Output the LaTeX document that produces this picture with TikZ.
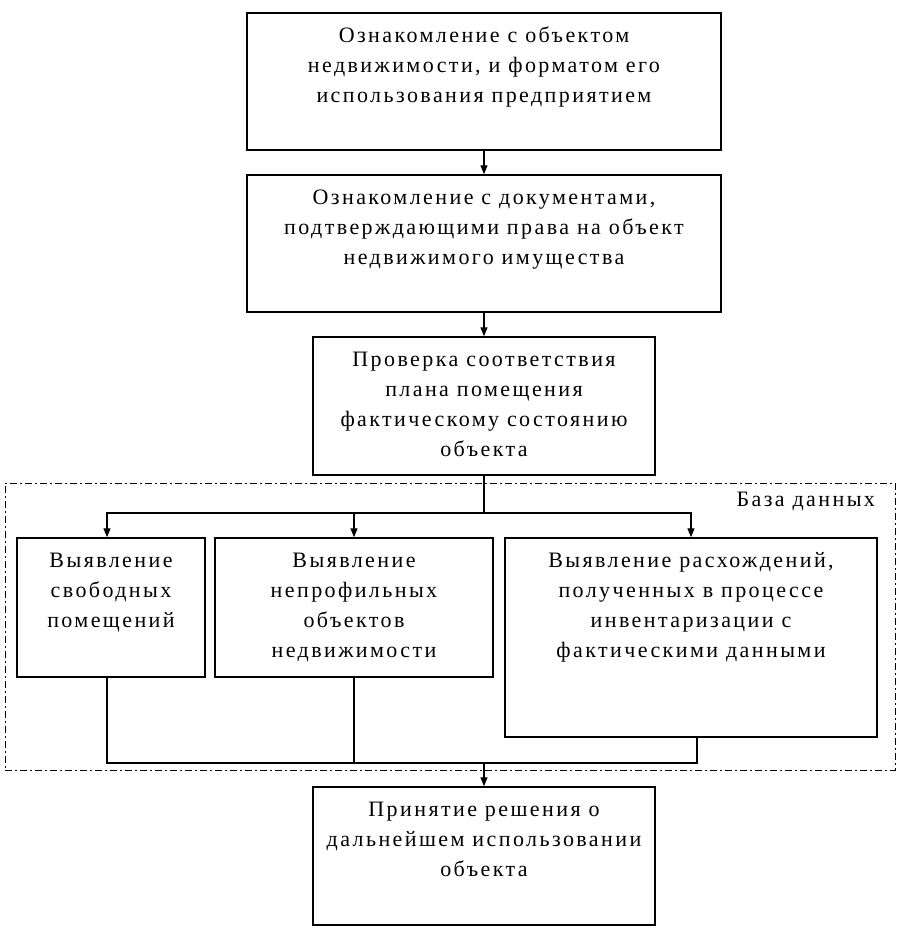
\documentclass[tikz,border=0pt]{standalone}
\usepackage{fontspec}
\setmainfont[LetterSpace=11]{Liberation Serif}
\usetikzlibrary{arrows.meta}
\newcommand{\bloktext}[3]{\parbox[c][#2pt][t]{#1pt}{\centering\rule{0pt}{29pt}#3}}
\begin{document}
\begin{tikzpicture}[x=1pt,y=-1pt,
    font=\fontsize{22}{30}\selectfont,
    blok/.style={draw,line width=1.5pt,inner sep=0pt},
    arr/.style={line width=1.2pt,-{Triangle[length=9pt,width=7pt]}},
    lin/.style={line width=1.2pt},
    frame/.style={draw,line width=1pt,dash pattern=on 7pt off 3pt on 2pt off 3pt,inner sep=0pt}]
        \useasboundingbox (0,0) rectangle (902,938);
        \node[frame,minimum width=890pt,minimum height=287pt] (db) at (450,626.5) {};
        \node[anchor=base east] (dblabel) at ([xshift=-17pt,yshift=-24pt]db.north east) {База данных};
        \node[blok] (b1) at (484,81.5) {\bloktext{474}{137}{Ознакомление с объектом\\ недвижимости, и форматом его\\ использования предприятием}};
        \node[blok] (b2) at (484,243.5) {\bloktext{474}{137}{Ознакомление с документами,\\ подтверждающими права на объект\\ недвижимого имущества}};
        \node[blok] (b3) at (484,406) {\bloktext{342}{138}{Проверка соответствия\\ плана помещения\\ фактическому состоянию\\ объекта}};
        \node[blok] (v1) at (111,607.5) {\bloktext{188}{139}{Выявление\\ свободных\\ помещений}};
        \node[blok] (v2) at (354,607.5) {\bloktext{278}{139}{Выявление\\ непрофильных\\ объектов\\ недвижимости}};
        \node[blok] (v3) at (691,637.5) {\bloktext{372}{199}{Выявление расхождений,\\ полученных в процессе\\ инвентаризации с\\ фактическими данными}};
        \node[blok] (b4) at (484,856) {\bloktext{342}{138}{Принятие решения о\\ дальнейшем использовании\\ объекта}};
        \coordinate (split) at (484,513);
        \coordinate (join) at (484,763);
        \draw[arr] (b1) -- (b2);
        \draw[arr] (b2) -- (b3);
        \draw[lin] (b3) -- (split);
        \draw[arr] (split) -| ([xshift=-4pt]v1.north);
        \draw[arr] (split) -| (v3.north);
        \draw[arr] (v2.north |- split) -- (v2.north);
        \draw[lin] ([xshift=-4pt]v1.south) |- (join);
        \draw[lin] ([xshift=6pt]v3.south) |- (join);
        \draw[lin] (v2.south) -- (v2.south |- join);
        \draw[arr] (join) -- (b4);
\end{tikzpicture}
\end{document}
